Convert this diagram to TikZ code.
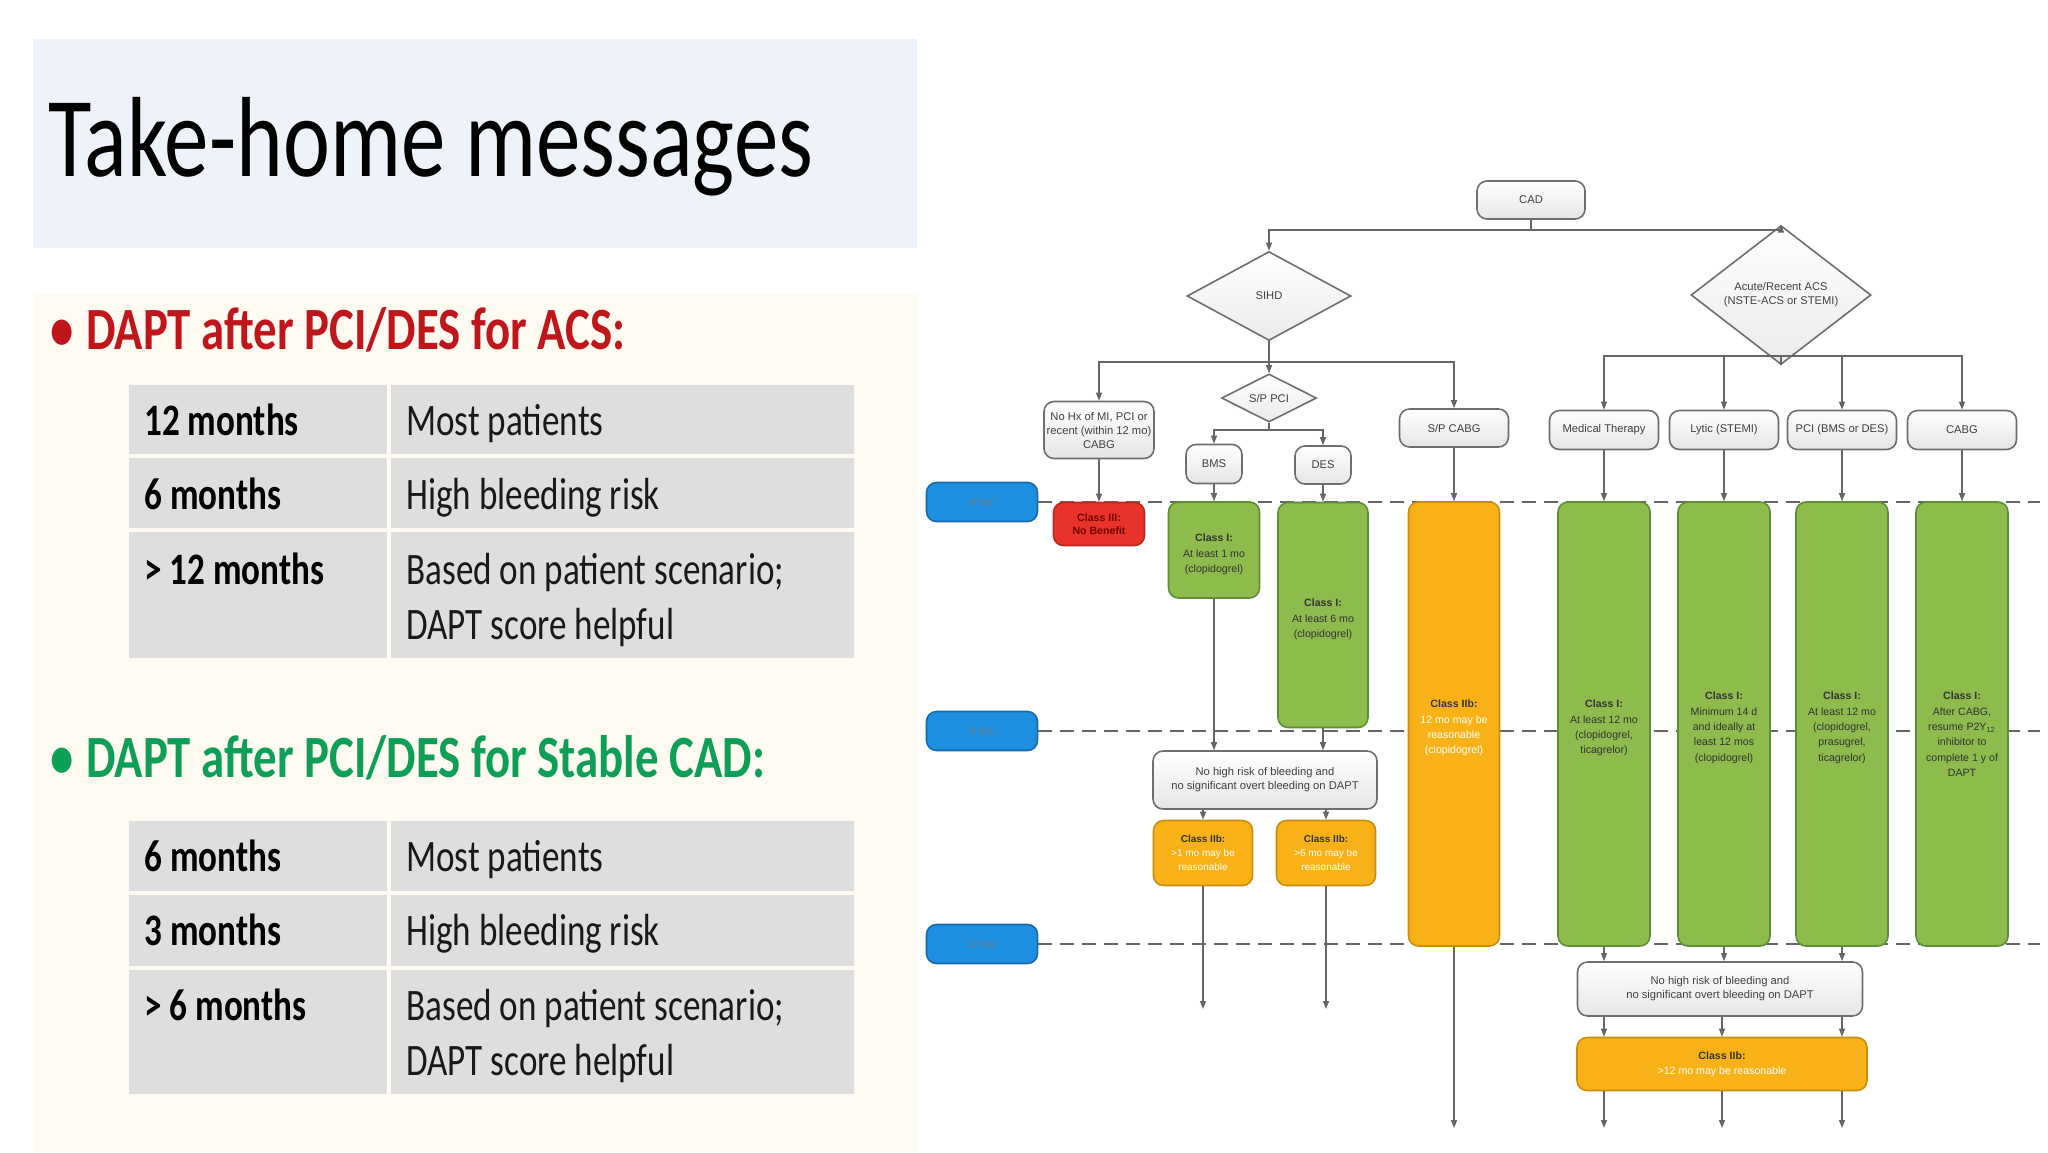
\documentclass[tikz,border=0pt]{standalone}
\usepackage{fontspec}
\setmainfont{Carlito}
\newfontfamily\arialf{Liberation Sans}
\usetikzlibrary{shapes.geometric,arrows.meta}
\definecolor{titlebg}{HTML}{EEF3FA}
\definecolor{bodybg}{HTML}{FFFBF3}
\definecolor{cellbg}{HTML}{DEDEDE}
\definecolor{redt}{HTML}{C0161B}
\definecolor{greent}{HTML}{0E9F57}
\definecolor{gfill}{HTML}{8DBB4C}
\definecolor{gdraw}{HTML}{5E8E35}
\definecolor{ofill}{HTML}{F8B218}
\definecolor{odraw}{HTML}{C98D10}
\definecolor{rfill}{HTML}{E8322A}
\definecolor{bfill}{HTML}{1E8FDF}
\definecolor{bdraw}{HTML}{1B6AA8}
\definecolor{lgray}{HTML}{6E6E6E}
\newcommand{\sq}[1]{\scalebox{0.78}[1]{#1}}
\tikzset{
  wbox/.style={draw=lgray, line width=0.8pt, rounded corners=5pt, top color=white, bottom color=black!10, font=\arialf\fontsize{5.6}{7}\selectfont, text=black!75, align=center, inner sep=1pt},
  dia/.style={diamond, draw=lgray, line width=0.8pt, top color=white, bottom color=black!8, font=\arialf\fontsize{5.6}{7}\selectfont, text=black!75, align=center, inner sep=0pt},
  gcol/.style={draw=gdraw, fill=gfill, line width=0.8pt, rounded corners=5pt},
  ocol/.style={draw=odraw, fill=ofill, line width=0.8pt, rounded corners=5pt},
  bbox/.style={draw=bdraw, fill=bfill, line width=0.8pt, rounded corners=5pt, font=\arialf\fontsize{5}{6}\selectfont, text=black!55},
  ctext/.style={font=\arialf\fontsize{5.3}{7.7}\selectfont, align=center, text=black!80, anchor=north},
  otext/.style={font=\arialf\fontsize{5.3}{7.7}\selectfont, align=center, text=white, anchor=north},
  ln/.style={draw=black!60, line width=0.65pt},
  arr/.style={ln, -{Triangle[length=4pt,width=3pt]}},
  dsh/.style={draw=black!60, line width=1.3pt, dash pattern=on 7pt off 4pt},
  cell/.style={fill=cellbg},
  tb/.style={anchor=base west, font=\bfseries\fontsize{22.5}{27}\selectfont, text=black},
  tn/.style={anchor=base west, font=\fontsize{22.5}{27}\selectfont, text=black!90},
}
\begin{document}
\begin{tikzpicture}[x=0.5pt,y=-0.5pt]
\useasboundingbox (0,0) rectangle (2048,1152);
\fill[white] (0,0) rectangle (2048,1152);
\fill[titlebg] (33,39) rectangle (917,248);
\fill[bodybg] (33,294) rectangle (917,1152);
\node[anchor=base west, font=\fontsize{57}{60}\selectfont, inner sep=0] (title) at (48,176) {\sq{Take-home messages}};

% bullet 1
\node[anchor=base west, text=redt, font=\bfseries\fontsize{30}{36}\selectfont, inner sep=0] (b1) at (50,349) {\sq{•}};
\node[anchor=base west, text=redt, font=\bfseries\fontsize{30}{36}\selectfont, inner sep=0] (h1) at (86,349) {\sq{DAPT after PCI/DES for ACS:}};
\fill[cell] (129,385) rectangle (387,454);
\fill[cell] (391,385) rectangle (854,454);
\fill[cell] (129,458) rectangle (387,528);
\fill[cell] (391,458) rectangle (854,528);
\fill[cell] (129,532) rectangle (387,658);
\fill[cell] (391,532) rectangle (854,658);
\node[tb, inner sep=0] (a1) at (144,435) {\sq{12 months}};
\node[tn, inner sep=0] (a2) at (406,435) {\sq{Most patients}};
\node[tb, inner sep=0] (a3) at (144,509) {\sq{6 months}};
\node[tn, inner sep=0] (a4) at (406,509) {\sq{High bleeding risk}};
\node[tb, inner sep=0] (a5) at (144,584) {\sq{> 12 months}};
\node[tn, inner sep=0] (a6) at (406,584) {\sq{Based on patient scenario;}};
\node[tn, inner sep=0] (a7) at (406,639) {\sq{DAPT score helpful}};

% bullet 2
\node[anchor=base west, text=greent, font=\bfseries\fontsize{30}{36}\selectfont, inner sep=0] (b2) at (50,777) {\sq{•}};
\node[anchor=base west, text=greent, font=\bfseries\fontsize{30}{36}\selectfont, inner sep=0] (h2) at (86,777) {\sq{DAPT after PCI/DES for Stable CAD:}};
\fill[cell] (129,821) rectangle (387,891);
\fill[cell] (391,821) rectangle (854,891);
\fill[cell] (129,895) rectangle (387,966);
\fill[cell] (391,895) rectangle (854,966);
\fill[cell] (129,970) rectangle (387,1094);
\fill[cell] (391,970) rectangle (854,1094);
\node[tb, inner sep=0] (c1) at (144,871) {\sq{6 months}};
\node[tn, inner sep=0] (c2) at (406,871) {\sq{Most patients}};
\node[tb, inner sep=0] (c3) at (144,945) {\sq{3 months}};
\node[tn, inner sep=0] (c4) at (406,945) {\sq{High bleeding risk}};
\node[tb, inner sep=0] (c5) at (144,1020) {\sq{> 6 months}};
\node[tn, inner sep=0] (c6) at (406,1020) {\sq{Based on patient scenario;}};
\node[tn, inner sep=0] (c7) at (406,1075) {\sq{DAPT score helpful}};

% timeline
\node[bbox, minimum width=55.5pt, minimum height=19.5pt] (m0) at (982,502) {0 mo};
\node[bbox, minimum width=55.5pt, minimum height=19.5pt] (m6) at (982,731) {6 mo};
\node[bbox, minimum width=55.5pt, minimum height=19.5pt] (m12) at (982,944) {12 mo};
\coordinate (d0) at (2040,502);
\coordinate (d6) at (2040,731);
\coordinate (d12) at (2040,944);
\draw[dsh] (m0.east) -- (d0);
\draw[dsh] (m6.east) -- (d6);
\draw[dsh] (m12.east) -- (d12);

% top nodes
\node[wbox, minimum width=54pt, minimum height=19pt] (cad) at (1531,200) {CAD};
\node[dia, minimum width=82pt, minimum height=44.5pt] (sihd) at (1269,296) {SIHD};
\node[dia, minimum width=90pt, minimum height=42.5pt] (acs) at (1781,295) {Acute/Recent ACS\\(NSTE-ACS or STEMI)};
\node[wbox, minimum width=55pt, minimum height=28.5pt] (nohx) at (1099,430) {No Hx of MI, PCI or\\recent (within 12 mo)\\CABG};
\node[dia, minimum width=47.5pt, minimum height=21pt] (sppci) at (1269,398) {S/P PCI};
\node[wbox, minimum width=28pt, minimum height=19.5pt] (bms) at (1214,464) {BMS};
\node[wbox, minimum width=28pt, minimum height=19pt] (des) at (1323,465) {DES};
\node[wbox, minimum width=54.5pt, minimum height=19pt] (spcabg) at (1454,428) {S/P CABG};
\node[wbox, minimum width=54.5pt, minimum height=19.5pt] (med) at (1604,430) {Medical Therapy};
\node[wbox, minimum width=54.5pt, minimum height=19.5pt] (lyt) at (1724,430) {Lytic (STEMI)};
\node[wbox, minimum width=54.5pt, minimum height=19.5pt] (pci) at (1842,430) {PCI (BMS or DES)};
\node[wbox, minimum width=54.5pt, minimum height=19.5pt] (cabg) at (1962,430) {CABG};

% columns
\node[draw=rfill!80!black, fill=rfill, rounded corners=5pt, line width=0.8pt, minimum width=45.5pt, minimum height=21.5pt, font=\arialf\bfseries\fontsize{5.3}{6.5}\selectfont, text=red!45!black, align=center] (red) at (1099,524) {Class III:\\No Benefit};
\node[gcol, minimum width=45.5pt, minimum height=48pt] (bmsg) at (1214,550) {};
\node[gcol, minimum width=45pt, minimum height=112.5pt] (desg) at (1323,615) {};
\node[ocol, minimum width=45.5pt, minimum height=222pt] (ocab) at (1454,724) {};
\node[gcol, minimum width=46pt, minimum height=222pt] (col1) at (1604,724) {};
\node[gcol, minimum width=46pt, minimum height=222pt] (col2) at (1724,724) {};
\node[gcol, minimum width=46pt, minimum height=222pt] (col3) at (1842,724) {};
\node[gcol, minimum width=46pt, minimum height=222pt] (col4) at (1962,724) {};

\node[ctext] (t1) at (1214,527) {\textbf{Class I:}\\At least 1 mo\\(clopidogrel)};
\node[ctext] (t2) at (1323,592) {\textbf{Class I:}\\At least 6 mo\\(clopidogrel)};
\node[otext] (t3) at (1454,693) {\textbf{\color{black!80}Class IIb:}\\12 mo may be\\reasonable\\(clopidogrel)};
\node[ctext] (t4) at (1604,693) {\textbf{Class I:}\\At least 12 mo\\(clopidogrel,\\ticagrelor)};
\node[ctext] (t5) at (1724,685) {\textbf{Class I:}\\Minimum 14 d\\and ideally at\\least 12 mos\\(clopidogrel)};
\node[ctext] (t6) at (1842,685) {\textbf{Class I:}\\At least 12 mo\\(clopidogrel,\\prasugrel,\\ticagrelor)};
\node[ctext] (t7) at (1962,685) {\textbf{Class I:}\\After CABG,\\resume P2Y\textsubscript{12}\\inhibitor to\\complete 1 y of\\DAPT};

% lower nodes
\node[wbox, minimum width=112pt, minimum height=29pt] (nh1) at (1265,780) {No high risk of bleeding and\\no significant overt bleeding on DAPT};
\node[ocol, minimum width=49.5pt, minimum height=32.5pt, font=\arialf\fontsize{5}{7}\selectfont, text=white, align=center] (ib1) at (1203,853) {\textbf{\color{black!80}Class IIb:}\\>1 mo may be\\reasonable};
\node[ocol, minimum width=49.5pt, minimum height=32.5pt, font=\arialf\fontsize{5}{7}\selectfont, text=white, align=center] (ib2) at (1326,853) {\textbf{\color{black!80}Class IIb:}\\>6 mo may be\\reasonable};
\node[wbox, minimum width=142.5pt, minimum height=27pt] (nh2) at (1720,989) {No high risk of bleeding and\\no significant overt bleeding on DAPT};
\node[ocol, minimum width=145pt, minimum height=26.5pt, font=\arialf\fontsize{5.3}{7.5}\selectfont, text=white, align=center] (ib3) at (1722,1064) {\textbf{\color{black!80}Class IIb:}\\>12 mo may be reasonable};

% connectors
\coordinate (j1) at (1531,230);
\coordinate (j2) at (1269,362);
\coordinate (j3) at (1269,430);
\coordinate (j4) at (1781,356);
\draw[ln] (cad.south) -- (j1);
\draw[arr] (j1) -| (sihd.north);
\draw[arr] (j1) -| (acs.north);
\draw[ln] (sihd.south) -- (j2);
\draw[arr] (j2) -| (nohx.north);
\draw[arr] (j2) -- (sppci.north);
\draw[arr] (j2) -| (spcabg.north);
\draw[ln] (sppci.south) -- (j3);
\draw[arr] (j3) -| (bms.north);
\draw[arr] (j3) -| (des.north);
\draw[ln] (acs.south) -- (j4);
\draw[arr] (j4) -| (med.north);
\draw[arr] (j4) -| (lyt.north);
\draw[arr] (j4) -| (pci.north);
\draw[arr] (j4) -| (cabg.north);
\draw[arr] (nohx.south) -- (red.north);
\draw[arr] (bms.south) -- (bmsg.north);
\draw[arr] (des.south) -- (desg.north);
\draw[arr] (spcabg.south) -- (ocab.north);
\draw[arr] (med.south) -- (col1.north);
\draw[arr] (lyt.south) -- (col2.north);
\draw[arr] (pci.south) -- (col3.north);
\draw[arr] (cabg.south) -- (col4.north);
\draw[arr] (bmsg.south) -- (bmsg.south |- nh1.north);
\draw[arr] (desg.south) -- (desg.south |- nh1.north);
\draw[arr] (nh1.south -| ib1) -- (ib1.north);
\draw[arr] (nh1.south -| ib2) -- (ib2.north);
\coordinate (e1) at (1203,1009);
\coordinate (e2) at (1326,1009);
\coordinate (e3) at (1454,1128);
\coordinate (e4) at (1604,1128);
\coordinate (e5) at (1722,1128);
\coordinate (e6) at (1842,1128);
\draw[arr] (ib1.south) -- (e1);
\draw[arr] (ib2.south) -- (e2);
\draw[arr] (ocab.south) -- (e3);
\draw[arr] (col1.south) -- (col1.south |- nh2.north);
\draw[arr] (col2.south) -- (col2.south |- nh2.north);
\draw[arr] (col3.south) -- (col3.south |- nh2.north);
\draw[arr] (nh2.south -| e4) -- (ib3.north -| e4);
\draw[arr] (nh2.south -| e5) -- (ib3.north -| e5);
\draw[arr] (nh2.south -| e6) -- (ib3.north -| e6);
\draw[arr] (ib3.south -| e4) -- (e4);
\draw[arr] (ib3.south -| e5) -- (e5);
\draw[arr] (ib3.south -| e6) -- (e6);
\end{tikzpicture}
\end{document}
